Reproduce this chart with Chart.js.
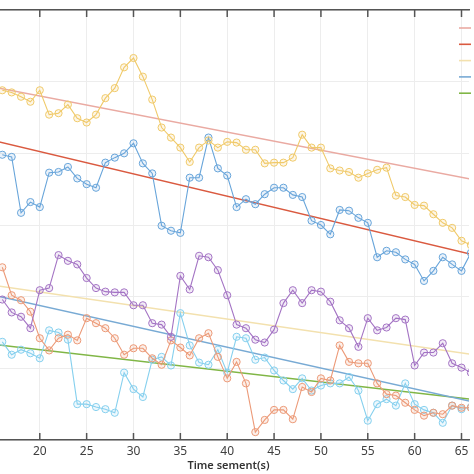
<!DOCTYPE html>
<html lang="en">
<head>
    <meta charset="UTF-8">
    <title>Time segment chart</title>
    <script src="https://cdn.jsdelivr.net/npm/chart.js"></script>
    <style>
        html, body { margin: 0; padding: 0; overflow: hidden; background: #fff; }
        #chart1 { display: block; margin-left: -18px; }
    </style>
</head>
<body>
    <canvas id="chart1" width="492" height="474"></canvas>

    <script>
        // time segments (x) and the five measured series
        const seconds = [16, 17, 18, 19, 20, 21, 22, 23, 24, 25, 26, 27, 28, 29, 30, 31, 32, 33, 34, 35, 36, 37, 38, 39, 40, 41,
                         42, 43, 44, 45, 46, 47, 48, 49, 50, 51, 52, 53, 54, 55, 56, 57, 58, 59, 60, 61, 62, 63, 64, 65, 66];

        const yellowVals = [48.8, 48.5, 47.9, 47.2, 48.8, 45.4, 45.6, 46.8, 44.9, 44.3, 45.4, 47.7, 49.1, 52.0, 53.3, 50.7, 47.5,
                            43.6, 42.2, 40.8, 38.8, 40.8, 41.8, 40.8, 41.6, 41.5, 40.5, 40.5, 38.6, 38.7, 38.7, 39.4, 42.6, 40.8,
                            40.8, 37.9, 37.6, 37.4, 36.6, 37.2, 37.7, 38.0, 34.1, 33.9, 32.8, 32.7, 31.5, 30.3, 29.6, 27.8, 27.2];

        const blueVals = [39.8, 39.5, 31.7, 33.2, 32.5, 37.3, 37.4, 38.1, 36.5, 35.7, 35.2, 38.7, 39.4, 40.0, 41.4, 38.6, 37.2,
                          29.9, 29.2, 28.9, 36.6, 36.6, 42.2, 37.9, 36.9, 32.5, 33.6, 32.9, 34.3, 35.2, 35.2, 34.2, 33.9, 30.6,
                          30.0, 28.7, 32.1, 32.0, 31.0, 30.3, 25.5, 26.4, 26.2, 25.2, 24.5, 22.2, 23.6, 25.5, 24.5, 23.6, 26.1];

        const purpleVals = [19.6, 17.8, 17.2, 15.6, 20.9, 21.2, 25.8, 25.0, 24.5, 22.6, 21.2, 20.7, 20.6, 20.6, 18.8, 18.8, 16.3,
                            16.1, 14.4, 22.9, 21.0, 25.7, 25.5, 23.7, 20.2, 16.1, 15.6, 14.0, 13.6, 15.4, 19.1, 20.9, 19.1, 20.9,
                            20.7, 19.3, 16.7, 15.6, 13.0, 17.0, 15.3, 15.7, 17.0, 16.8, 10.4, 12.2, 12.2, 13.5, 10.7, 10.1, 9.4];

        const orangeVals = [24.1, 20.2, 19.5, 17.9, 14.2, 12.5, 14.2, 14.7, 13.9, 17.0, 16.3, 15.6, 14.2, 11.9, 12.8, 12.8, 11.4,
                            10.5, 13.9, 12.9, 11.8, 14.2, 14.9, 11.6, 8.6, 10.9, 7.9, 1.1, 2.8, 4.2, 4.2, 2.9, 7.4, 6.7,
                            8.6, 8.3, 13.2, 10.9, 10.7, 10.7, 7.9, 6.4, 6.2, 5.2, 4.2, 3.4, 3.8, 3.6, 4.8, 4.5, 4.5];

        const cyanVals = [13.7, 11.9, 12.6, 12.1, 11.4, 15.3, 15.0, 14.0, 5.0, 5.0, 4.6, 4.3, 3.8, 9.4, 7.1, 6.0, 11.2,
                          11.6, 10.4, 17.7, 13.2, 10.8, 10.5, 12.6, 9.4, 14.4, 14.2, 11.2, 11.5, 9.7, 8.3, 7.1, 8.6, 6.9,
                          7.6, 7.9, 7.9, 8.8, 6.9, 2.7, 5.0, 5.7, 4.8, 7.9, 5.0, 4.2, 3.8, 2.4, 4.8, 4.3, 4.6];

        // fitted trend lines, start and end value over trendX
        const trendX = [14, 68];
        const trendSalmon = [49.5, 35.9];
        const trendRed = [42.1, 25.3];
        const trendPale = [21.8, 11.6];
        const trendBlue = [20.5, 4.8];
        const trendGreen = [13.5, 5.4];

        const xTicks = [20, 25, 30, 35, 40, 45, 50, 55, 60, 65];

        function toPoints(xs, ys) {
            return xs.map((x, i) => ({ x: x, y: ys[i] }));
        }

        function markerSeries(label, ys, color, fill) {
            return {
                label: label,
                data: toPoints(seconds, ys),
                borderColor: color,
                backgroundColor: fill,
                borderWidth: 1.1,
                pointRadius: 3.6,
                pointBorderWidth: 1,
                pointBackgroundColor: fill,
                pointBorderColor: color,
                tension: 0,
                xAxisID: 'x',
                isTrend: false
            };
        }

        function trendLine(label, ends, color) {
            return {
                label: label,
                data: toPoints(trendX, ends),
                borderColor: color,
                borderWidth: 1.5,
                pointRadius: 0,
                xAxisID: 'x',
                isTrend: true
            };
        }

        // inward tick marks on top and bottom, MATLAB style
        const innerTicks = {
            id: 'innerTicks',
            afterDraw(chart) {
                const c = chart.ctx;
                const xs = chart.scales.x;
                const area = chart.chartArea;
                c.save();
                c.strokeStyle = '#555';
                c.lineWidth = 1.5;
                xTicks.forEach(v => {
                    const px = xs.getPixelForValue(v);
                    c.beginPath();
                    c.moveTo(px, area.top);
                    c.lineTo(px, area.top + 7);
                    c.moveTo(px, area.bottom);
                    c.lineTo(px, area.bottom - 7);
                    c.stroke();
                });
                c.restore();
            }
        };

        // legend samples (the text part is outside the cropped picture)
        const legendSamples = {
            id: 'legendSamples',
            afterDraw(chart) {
                const c = chart.ctx;
                const right = chart.chartArea.right;
                const trends = chart.data.datasets.filter(d => d.isTrend);
                c.save();
                c.lineWidth = 1.6;
                trends.forEach((d, i) => {
                    const y = 28 + i * 16.3;
                    c.strokeStyle = d.borderColor;
                    c.beginPath();
                    c.moveTo(right - 10, y);
                    c.lineTo(right + 2, y);
                    c.stroke();
                });
                c.restore();
            }
        };

        const ctx1 = document.getElementById('chart1').getContext('2d');

        const chart = new Chart(ctx1, {
            type: 'line',
            data: {
                datasets: [
                    markerSeries('Series 1', yellowVals, '#F0CA6A', 'rgba(240,202,106,0.16)'),
                    markerSeries('Series 2', blueVals, '#68A5DA', 'rgba(104,165,218,0.14)'),
                    markerSeries('Series 3', purpleVals, '#A474C4', 'rgba(164,116,196,0.14)'),
                    markerSeries('Series 4', orangeVals, '#EC9A78', 'rgba(236,154,120,0.16)'),
                    markerSeries('Series 5', cyanVals, '#86D0EE', 'rgba(134,208,238,0.14)'),
                    trendLine('Fit 1', trendSalmon, '#EAAAA2'),
                    trendLine('Fit 2', trendRed, '#DA5A40'),
                    trendLine('Fit 3', trendPale, '#F3E1AE'),
                    trendLine('Fit 4', trendBlue, '#78AAD4'),
                    trendLine('Fit 5', trendGreen, '#80B646')
                ]
            },
            options: {
                responsive: false,
                animation: false,
                devicePixelRatio: 1,
                layout: { padding: 0 },
                plugins: {
                    legend: { display: false },
                    tooltip: { enabled: false }
                },
                scales: {
                    x: {
                        type: 'linear',
                        position: 'bottom',
                        min: 14.47,
                        max: 65.8,
                        afterFit: s => { s.height = 34; },
                        ticks: {
                            stepSize: 5,
                            includeBounds: false,
                            padding: 4,
                            maxRotation: 0,
                            autoSkip: false,
                            color: '#404040',
                            font: { family: 'Noto Sans', size: 12 }
                        },
                        grid: { color: '#ededed', drawTicks: false },
                        border: { color: '#555', width: 1.5 },
                        title: {
                            display: true,
                            text: 'Time sement(s)',
                            color: '#333',
                            font: { family: 'Noto Sans', size: 11, weight: '600' },
                            padding: { top: 0, bottom: 2 }
                        }
                    },
                    xTop: {
                        type: 'linear',
                        position: 'top',
                        min: 14.47,
                        max: 65.8,
                        afterFit: s => { s.height = 10; },
                        ticks: { display: false },
                        grid: { display: false },
                        border: { color: '#555', width: 1.5 }
                    },
                    y: {
                        min: 0,
                        max: 60,
                        afterFit: s => { s.width = 0; },
                        ticks: { display: false, stepSize: 10 },
                        grid: { color: '#ededed', drawTicks: false },
                        border: { display: false }
                    }
                }
            },
            plugins: [innerTicks, legendSamples]
        });
    </script>
</body>
</html>
